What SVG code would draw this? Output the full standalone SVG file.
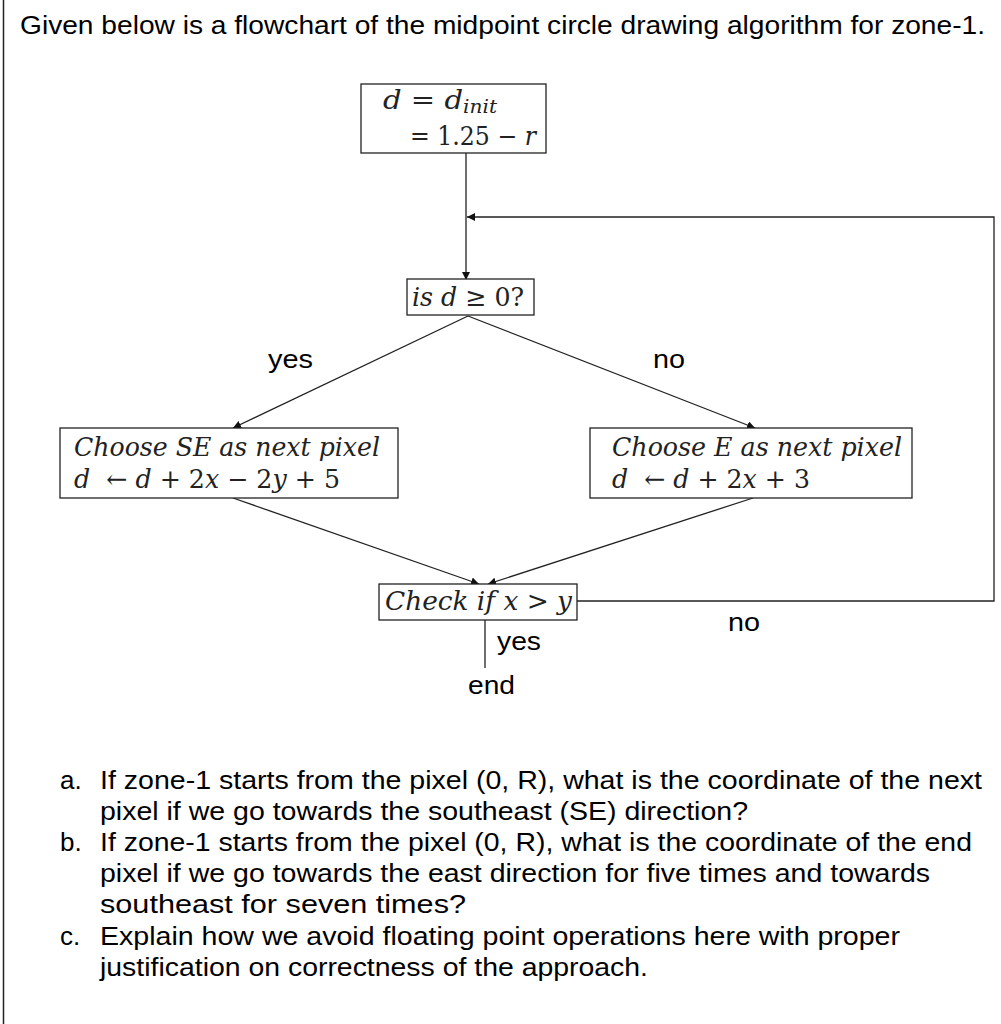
<svg xmlns="http://www.w3.org/2000/svg" width="1001" height="1024" viewBox="0 0 1001 1024">
<defs>
<marker id="arr" viewBox="0 0 10 10" refX="10" refY="5" markerWidth="8" markerHeight="8" orient="auto" markerUnits="userSpaceOnUse"><path d="M0,0 L10,5 L0,10 z" fill="#111"/></marker>
</defs>
<style>
.box{fill:#fff;stroke:#222;stroke-width:1.3}
.ln{fill:none;stroke:#222;stroke-width:1.3}
.sans{font-family:"Liberation Sans",Arial,sans-serif;fill:#000}
.math{font-family:"DejaVu Serif","Liberation Serif",serif;fill:#222;font-size:26px}
.i{font-style:italic}
</style>
<rect width="1001" height="1024" fill="#fff"/>
<line x1="3.5" y1="0" x2="3.5" y2="1024" stroke="#222" stroke-width="1.5"/>
<text class="sans" x="20" y="34" font-size="25" textLength="965" lengthAdjust="spacingAndGlyphs">Given below is a flowchart of the midpoint circle drawing algorithm for zone-1.</text>

<g id="connectors">
<line class="ln" x1="466" y1="153" x2="466" y2="280" marker-end="url(#arr)"/>
<polyline class="ln" points="577,601 994,601 994,217 467,217" marker-end="url(#arr)"/>
<line class="ln" x1="468" y1="316" x2="233" y2="428" marker-end="url(#arr)"/>
<line class="ln" x1="468" y1="316" x2="755" y2="428" marker-end="url(#arr)"/>
<line class="ln" x1="233" y1="498" x2="479" y2="584" marker-end="url(#arr)"/>
<line class="ln" x1="753" y1="498" x2="488" y2="584" marker-end="url(#arr)"/>
<line class="ln" x1="485" y1="620" x2="485" y2="668"/>
<text class="sans" x="268" y="368" font-size="25" textLength="45" lengthAdjust="spacingAndGlyphs">yes</text>
<text class="sans" x="653" y="368" font-size="25" textLength="32" lengthAdjust="spacingAndGlyphs">no</text>
<text class="sans" x="728" y="631" font-size="25" textLength="32" lengthAdjust="spacingAndGlyphs">no</text>
<text class="sans" x="497" y="650" font-size="25" textLength="44" lengthAdjust="spacingAndGlyphs">yes</text>
</g>

<g id="init">
<rect class="box" x="361" y="84" width="185" height="69"/>
<text class="math" x="383" y="109" textLength="114" lengthAdjust="spacingAndGlyphs"><tspan class="i">d</tspan> = <tspan class="i">d</tspan><tspan class="i" font-size="18" dy="4">init</tspan></text>
<text class="math" x="410" y="145" font-size="24" textLength="126" lengthAdjust="spacingAndGlyphs">= 1.25 − <tspan class="i">r</tspan></text>
</g>

<g id="decision">
<rect class="box" x="407" y="279" width="127" height="36"/>
<text class="math" x="412" y="306" textLength="112" lengthAdjust="spacingAndGlyphs"><tspan class="i">is d</tspan> ≥ 0?</text>
</g>

<g id="se">
<rect class="box" x="60" y="428" width="338" height="70"/>
<text class="math i" x="74" y="456" textLength="306" lengthAdjust="spacingAndGlyphs">Choose SE as next pixel</text>
<text class="math" x="74" y="488" textLength="266" lengthAdjust="spacingAndGlyphs"><tspan class="i">d</tspan>&#160; ← <tspan class="i">d</tspan> + 2<tspan class="i">x</tspan> − 2<tspan class="i">y</tspan> + 5</text>
</g>

<g id="e">
<rect class="box" x="590" y="428" width="322" height="70"/>
<text class="math i" x="612" y="456" textLength="290" lengthAdjust="spacingAndGlyphs">Choose E as next pixel</text>
<text class="math" x="612" y="488" textLength="198" lengthAdjust="spacingAndGlyphs"><tspan class="i">d</tspan>&#160; ← <tspan class="i">d</tspan> + 2<tspan class="i">x</tspan> + 3</text>
</g>

<g id="check">
<rect class="box" x="379" y="584" width="198" height="36"/>
<text class="math" x="385" y="610" textLength="187" lengthAdjust="spacingAndGlyphs"><tspan class="i">Check if x</tspan> &gt; <tspan class="i">y</tspan></text>
</g>

<g id="end">
<text class="sans" x="468" y="694" font-size="26" textLength="47" lengthAdjust="spacingAndGlyphs">end</text>
</g>

<g id="questions" class="sans" font-size="26">
<text x="60" y="789">a.</text>
<text x="100" y="789" textLength="882" lengthAdjust="spacingAndGlyphs">If zone-1 starts from the pixel (0, R), what is the coordinate of the next</text>
<text x="100" y="820" textLength="648" lengthAdjust="spacingAndGlyphs">pixel if we go towards the southeast (SE) direction?</text>
<text x="60" y="851">b.</text>
<text x="100" y="851" textLength="872" lengthAdjust="spacingAndGlyphs">If zone-1 starts from the pixel (0, R), what is the coordinate of the end</text>
<text x="100" y="882" textLength="830" lengthAdjust="spacingAndGlyphs">pixel if we go towards the east direction for five times and towards</text>
<text x="100" y="913" textLength="366" lengthAdjust="spacingAndGlyphs">southeast for seven times?</text>
<text x="60" y="945">c.</text>
<text x="100" y="945" textLength="800" lengthAdjust="spacingAndGlyphs">Explain how we avoid floating point operations here with proper</text>
<text x="100" y="976" textLength="548" lengthAdjust="spacingAndGlyphs">justification on correctness of the approach.</text>
</g>
</svg>
